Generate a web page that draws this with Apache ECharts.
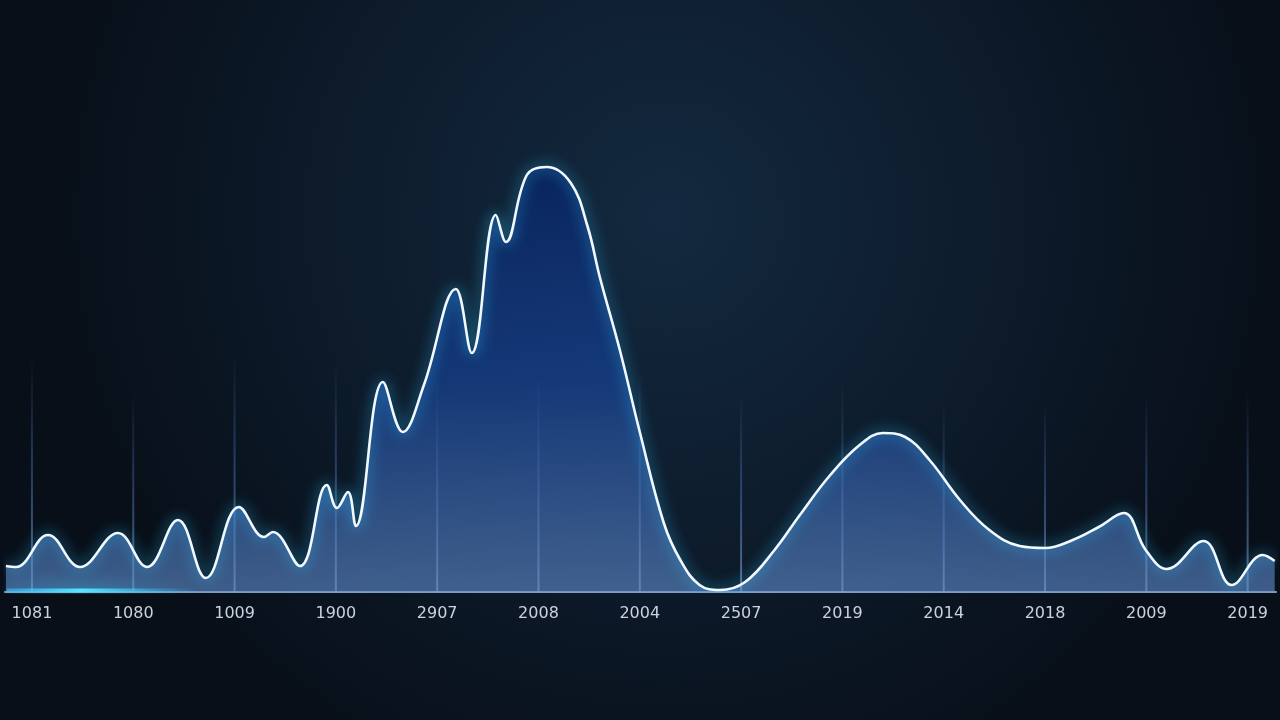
<!DOCTYPE html>
<html>
<head>
<meta charset="utf-8">
<script src="https://cdn.jsdelivr.net/npm/echarts@6/dist/echarts.min.js"></script>
<style>html,body{margin:0;padding:0;background:#0a1320;}#c{width:1280px;height:720px;}</style>
</head>
<body>
<div id="c"></div>
<script>
// Tick labels (as printed in the reference)
var labels = ["1081","1080","1009","1900","2907","2008","2004","2507","2019","2014","2018","2009","2019"];
// Curve: x in label-slot units (0 = first label), y in value units
var curveX = [-0.257,-0.158,0.158,0.474,0.849,1.135,1.441,1.717,2.043,2.290,2.378,2.645,2.911,3.010,3.119,3.197,3.464,3.661,3.869,4.184,4.342,4.579,4.678,4.885,5.082,5.319,5.486,5.605,5.803,6.000,6.237,6.400,6.590,6.790,7.040,7.330,7.580,7.880,8.170,8.400,8.620,8.860,9.160,9.450,9.750,10.000,10.273,10.530,10.777,10.994,11.201,11.566,11.843,12.148,12.267];
var curveY = [5.2,5.0,11.4,5.0,11.8,5.0,14.4,2.8,17.0,11.0,12.0,5.2,21.4,16.8,20.0,13.2,42.0,32.0,41.4,60.6,47.8,75.4,70.0,83.4,85.0,81.8,73.0,63.0,48.4,32.0,13.8,6.4,1.4,0.4,2.0,8.4,15.4,23.4,29.4,31.8,31.0,26.4,18.4,12.4,9.2,8.8,10.4,13.0,15.8,8.4,4.6,10.2,1.4,7.4,6.2];
// Vertical guide heights at each label slot
var guideH = [47,40,48,46,44,45,44,40,42,38,38,40,40];
var labelSlots = labels.map(function(l,i){return i;});

var chart = echarts.init(document.getElementById('c'));
var curve = curveX.map(function(x,i){return [x, curveY[i]];});
var guides = guideH.map(function(h,i){return [i,h];});

chart.setOption({
  backgroundColor: {
    type:'radial', x:0.52, y:0.3, r:0.85,
    colorStops:[{offset:0,color:'#13293f'},{offset:0.55,color:'#0d1b2b'},{offset:1,color:'#080f19'}]
  },
  animation:false,
  grid:{left:5,right:4,top:92,bottom:128},
  xAxis:{
    type:'value', min:-0.266, max:12.28,
    axisLine:{show:true, lineStyle:{color:'rgba(150,180,220,0.85)', width:2}},
    axisTick:{show:false}, splitLine:{show:false},
    axisLabel:{
      customValues: labelSlots,
      color:'#c9d2de', fontSize:16, fontFamily:'DejaVu Sans', margin:14,
      formatter:function(v){return labels[Math.round(v)] || '';}
    }
  },
  yAxis:{type:'value', min:0, max:100, show:false},
  series:[
    {
      name:'guides', type:'bar', barWidth:2, data:guides, z:1,
      itemStyle:{color:{type:'linear',x:0,y:0,x2:0,y2:1,colorStops:[
        {offset:0,color:'rgba(90,140,220,0)'},{offset:0.4,color:'rgba(90,140,220,0.3)'},{offset:1,color:'rgba(150,190,240,0.55)'}]}}
    },
    {
      name:'curve', type:'line', data:curve, smooth:0.4, symbol:'none', z:3,
      lineStyle:{color:'#f2f8ff', width:2.6, shadowColor:'#2ec4ff', shadowBlur:14},
      areaStyle:{color:{type:'linear',x:0,y:0,x2:0,y2:1,colorStops:[
        {offset:0,color:'rgba(6,36,110,0.95)'},{offset:0.5,color:'rgba(24,72,165,0.85)'},{offset:1,color:'rgba(100,145,210,0.85)'}]}}
    },
    {
      name:'glow', type:'line', data:[[-0.25,0.3],[1.6,0.3]], symbol:'none', z:5,
      lineStyle:{width:4, shadowColor:'#20d0ff', shadowBlur:18,
        color:{type:'linear',x:0,y:0,x2:1,y2:0,colorStops:[
          {offset:0,color:'rgba(60,200,255,0.5)'},{offset:0.4,color:'rgba(90,230,255,1)'},{offset:1,color:'rgba(60,200,255,0)'}]}}
    }
  ]
});
</script>
</body>
</html>
